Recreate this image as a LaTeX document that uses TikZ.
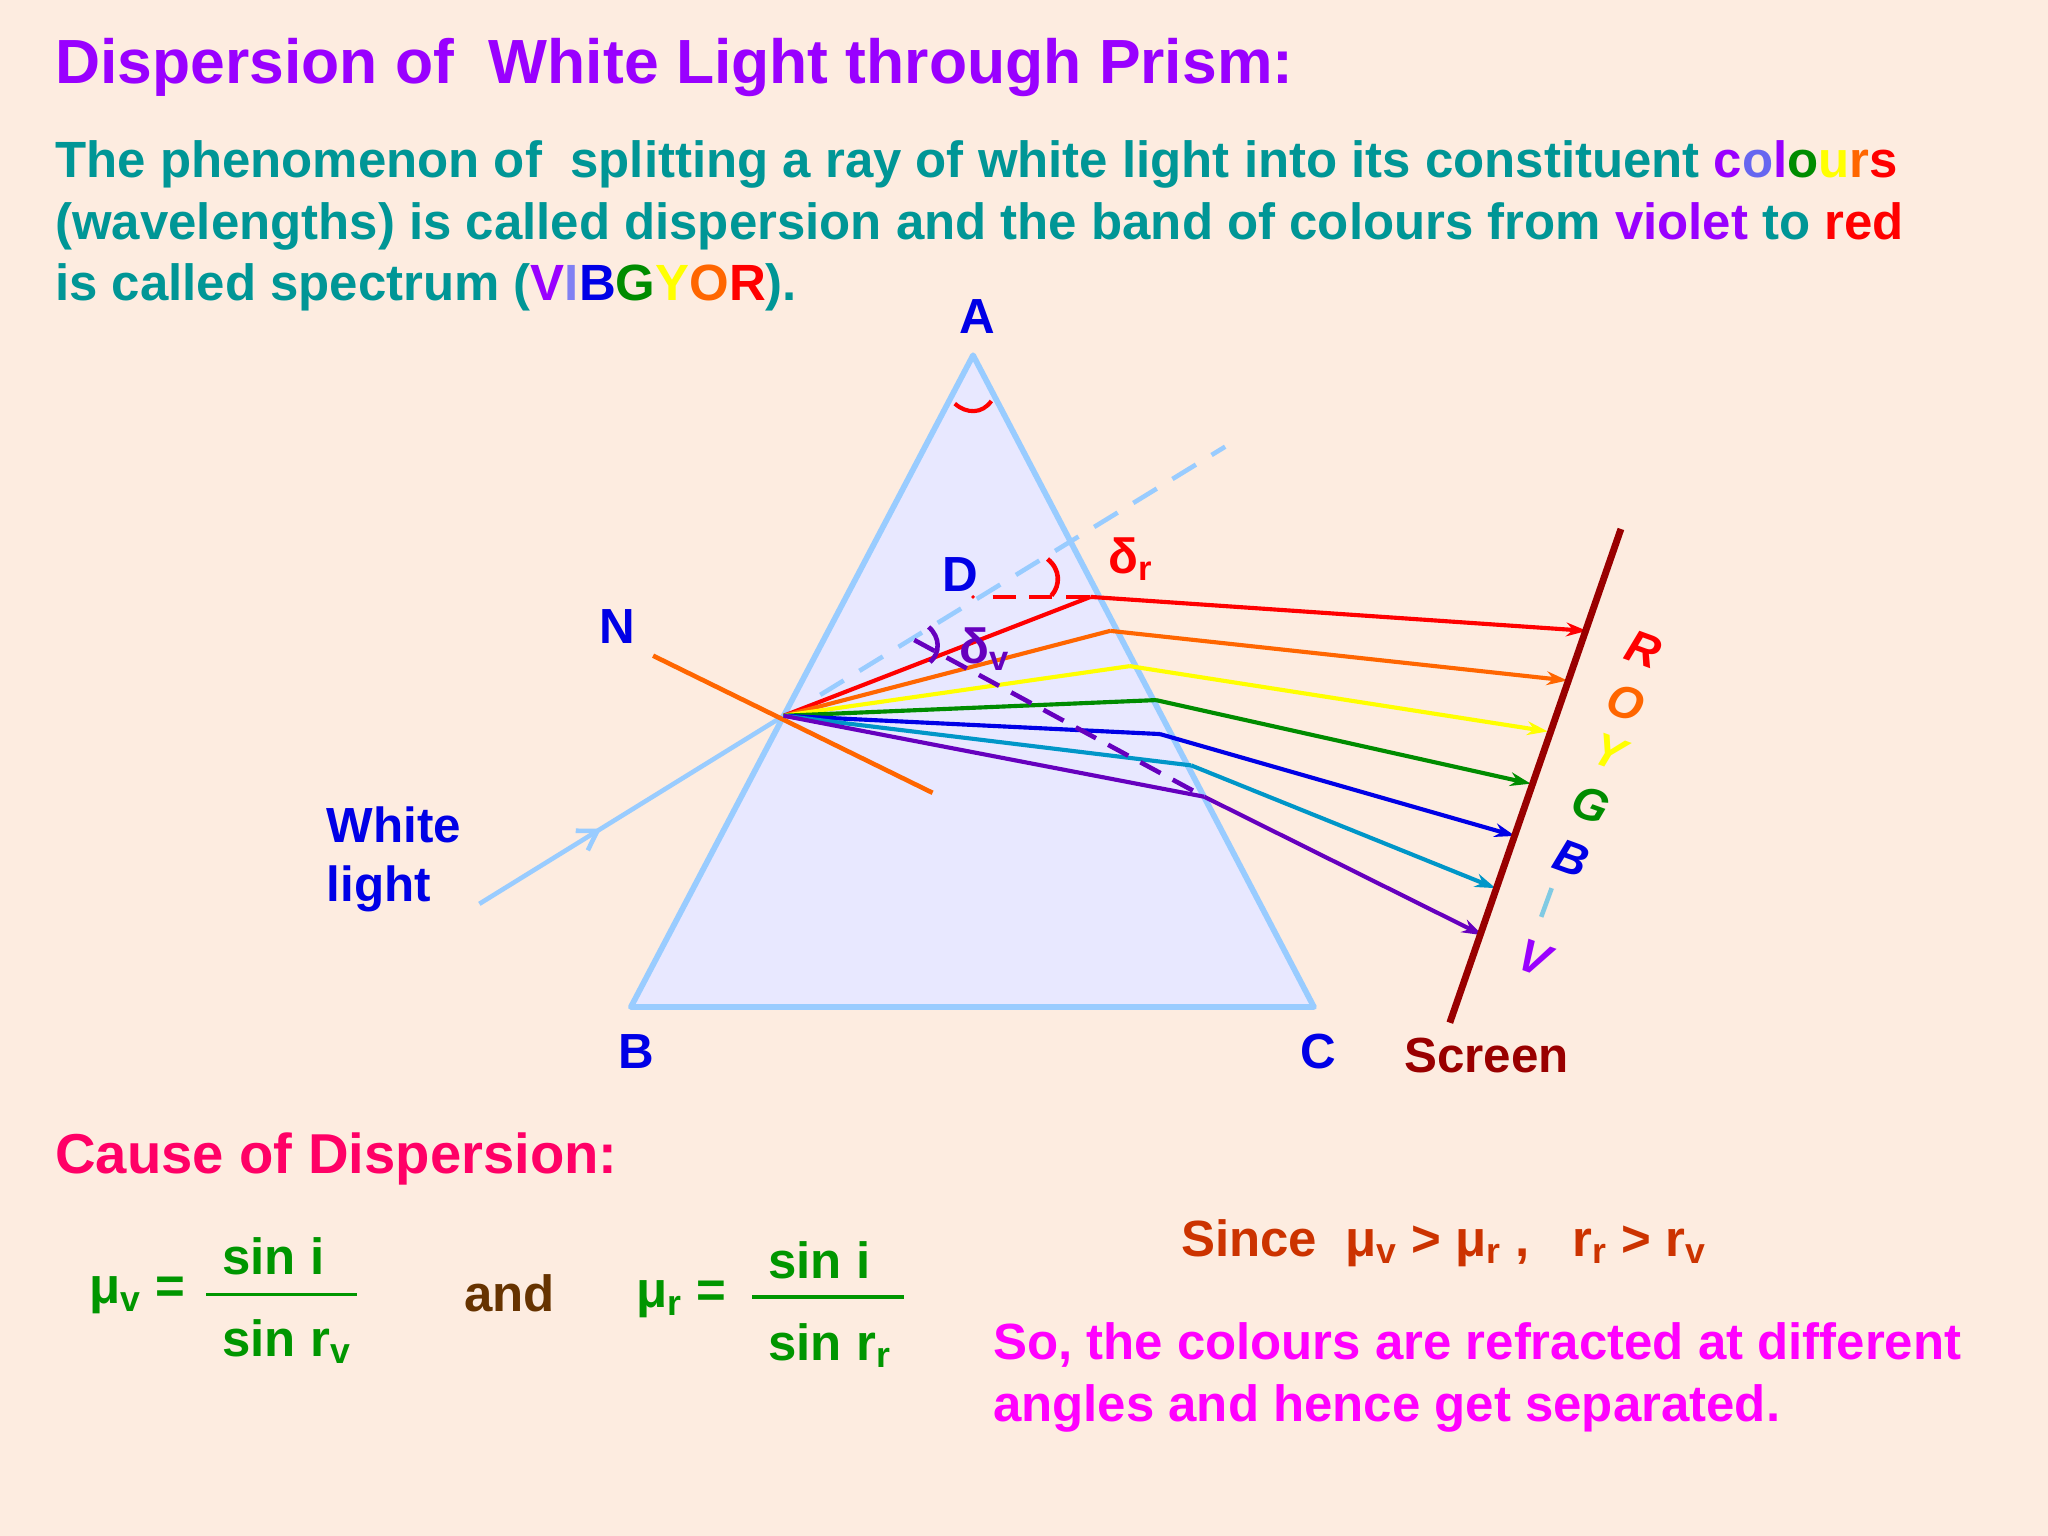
\documentclass[tikz,border=0pt]{standalone}
\usepackage{fontspec}
\setmainfont{Liberation Sans}
\usetikzlibrary{arrows.meta,decorations.markings}
\definecolor{bg}{RGB}{253,236,224}
\definecolor{ttl}{RGB}{153,0,255}
\definecolor{teal2}{RGB}{0,150,150}
\definecolor{pb}{RGB}{153,204,255}
\definecolor{pf}{RGB}{232,232,255}
\definecolor{ora}{RGB}{255,102,0}
\definecolor{yel}{RGB}{255,255,0}
\definecolor{grn}{RGB}{0,140,0}
\definecolor{blu}{RGB}{0,0,230}
\definecolor{cya}{RGB}{0,150,200}
\definecolor{vio}{RGB}{102,0,190}
\definecolor{scr}{RGB}{153,0,0}
\definecolor{crim}{RGB}{255,0,102}
\definecolor{brn}{RGB}{102,51,0}
\definecolor{since}{RGB}{204,51,0}
\definecolor{mag}{RGB}{255,0,255}
\definecolor{fg}{RGB}{0,150,0}
\begin{document}
\begin{tikzpicture}[x=0.02cm,y=-0.02cm,font=\bfseries,
  txt/.style={anchor=west,inner sep=0pt,font=\fontsize{22.2}{26}\selectfont\bfseries},
  lbl/.style={inner sep=0pt,font=\fontsize{21.5}{26}\selectfont\bfseries,text=blu},
  ray/.style={line width=1.8pt},
  arr/.style={ray,-{Stealth[length=9pt,width=6pt]}},
  cl/.style={inner sep=0pt,font=\fontsize{20}{24}\selectfont\bfseries\itshape,rotate=-20}]
\fill[bg] (0,0) rectangle (1568,1176);
\useasboundingbox (0,0) rectangle (1568,1176);
\node[txt,font=\fontsize{27.2}{30}\selectfont\bfseries,text=ttl] (t) at (42,52) {Dispersion of\ \ White Light through Prism:};
\node[txt,text=teal2] (p1) at (42,126) {The phenomenon of\ \ splitting a ray of white light into its constituent \textcolor{ttl}{c}\textcolor{blu!60}{o}\textcolor{ttl}{l}\textcolor{grn}{o}\textcolor{yel}{u}\textcolor{ora}{r}\textcolor{red}{s}};
\node[txt,text=teal2] (p2) at (42,173) {(wavelengths) is called dispersion and the band of colours from \textcolor{ttl}{violet} to \textcolor{red}{red}};
\node[txt,text=teal2] (p3) at (42,220) {is called spectrum (\textcolor{ttl}{V}\textcolor{blu!50}{I}\textcolor{blu}{B}\textcolor{grn}{G}\textcolor{yel}{Y}\textcolor{ora}{O}\textcolor{red}{R}).};
% prism
\coordinate (A) at (745,272); \coordinate (B) at (483,771); \coordinate (C) at (1006,771);
\draw[pb,fill=pf,line width=2.5pt,line join=round] (A)--(B)--(C)--cycle;
\node[lbl] (la) at (748,242) {A};
\node[lbl] (lb) at (487,805) {B};
\node[lbl] (lc) at (1009,805) {C};
\node[lbl] (ld) at (735,440) {D};
\node[lbl] (ln) at (473,480) {N};
\draw[red,line width=1.8pt] (731,309) .. controls (740,317) and (752,317) .. (759,307);
% incident
\coordinate (P) at (600,548);
\coordinate (S) at (367,692);
\draw[pb,line width=2pt,postaction={decorate},decoration={markings,mark=at position 0.4 with {\arrow{Straight Barb[length=8pt,width=10pt]}}}] (S)--(P);
\draw[pb,line width=2pt,dash pattern=on 12pt off 8pt] (628,532)--(938,342);
\node[lbl,align=left,anchor=west] (wl) at (250,658) {White\\light};
\draw[ora,line width=2pt] (500,502)--(714,607);
% rays
\foreach \c/\mx/\my/\ex/\ey in {red/835/457/1215/483, ora/850/483/1200/521, yel/865/510/1185/560, grn/885/536/1172/600, blu/888/562/1160/640, cya/912/586/1145/680, vio/922/610/1135/716}{
  \draw[ray,\c] (P)--(\mx,\my);
  \draw[arr,\c] (\mx,\my)--(\ex,\ey);
}
\draw[red,line width=2pt,dash pattern=on 10pt off 6pt] (760,457)--(835,457);
\fill[red] (745,457) circle (1.5);
\draw[red,line width=2pt] (802,428) .. controls (812,436) and (812,448) .. (805,456);
\draw[vio,line width=2pt,dash pattern=on 10pt off 6pt] (700,490)--(922,610);
\draw[vio,line width=2pt] (711,480) .. controls (720,488) and (720,500) .. (712,507);
\node[inner sep=0pt,text=red,font=\fontsize{21.5}{24}\selectfont\bfseries] (dr) at (866,428) {δ\textsubscript{r}};
\node[inner sep=0pt,text=vio,font=\fontsize{21.5}{24}\selectfont\bfseries] (dv) at (754,497) {δ\textsubscript{v}};
% screen
\draw[scr,line width=3pt] (1241,405)--(1110,783);
\node[inner sep=0pt,text=scr,font=\fontsize{21.5}{24}\selectfont\bfseries] (sc) at (1138,808) {Screen};
\node[cl,text=red] (R) at (1258,497) {R};
\node[cl,text=ora] (O) at (1245,538) {O};
\node[cl,text=yel] (Y) at (1232,576) {Y};
\node[cl,text=grn] (G) at (1218,616) {G};
\node[cl,text=blu] (Bl) at (1203,657) {B};
\draw[cya!50,line width=2pt] (1188,680)--(1180,702);
\node[cl,text=ttl] (V) at (1175,733) {V};
% cause
\node[txt,text=crim,font=\fontsize{24.5}{28}\selectfont\bfseries] (cause) at (42,887) {Cause of Dispersion:};
\node[txt,text=fg] (mv) at (68,992) {μ\textsubscript{v} =};
\node[txt,text=fg] (n1) at (170,962) {sin i};
\node[txt,text=fg] (d1) at (170,1027) {sin r\textsubscript{v}};
\draw[fg,line width=1.5pt] (158,991)--(273,991);
\node[txt,text=brn] (and) at (355,990) {and};
\node[txt,text=fg] (mr) at (487,995) {μ\textsubscript{r} =};
\node[txt,text=fg] (n2) at (588,965) {sin i};
\node[txt,text=fg] (d2) at (588,1030) {sin r\textsubscript{r}};
\draw[fg,line width=1.5pt] (576,993)--(692,993);
\node[txt,text=since] (since) at (904,952) {Since\ \ μ\textsubscript{v} > μ\textsubscript{r} ,\ \ \ r\textsubscript{r} > r\textsubscript{v}};
\node[txt,text=mag] (so1) at (760,1030) {So, the colours are refracted at different};
\node[txt,text=mag] (so2) at (760,1078) {angles and hence get separated.};
\end{tikzpicture}
\end{document}
